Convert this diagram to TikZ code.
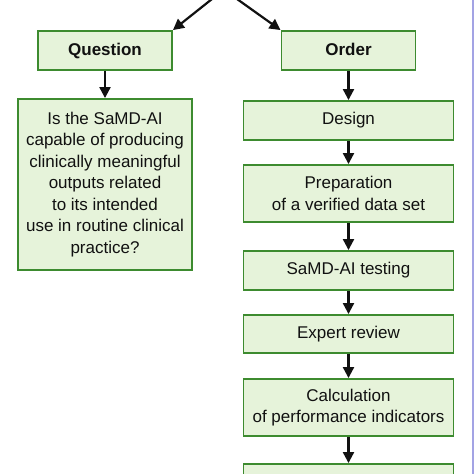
\documentclass[tikz,border=0pt]{standalone}
\usepackage{fontspec}
\setmainfont{Liberation Sans}
\usetikzlibrary{arrows.meta}
\definecolor{boxfill}{HTML}{E6F3DA}
\definecolor{boxline}{HTML}{3D8B2F}
\definecolor{edgebar}{HTML}{A3A3E4}
\definecolor{inkcol}{HTML}{111111}

\begin{document}
\begin{tikzpicture}[x=1pt,y=-1pt,
	box/.style={draw=boxline,fill=boxfill,line width=1.9pt,inner sep=0pt,align=center,
		text=inkcol,font=\fontsize{17}{21.5}\selectfont},
	head/.style={box,minimum width=134pt,minimum height=39pt,text height=12pt,text depth=2pt,
		font=\fontsize{17}{21.5}\selectfont\bfseries},
	step box/.style={box,minimum width=210pt},
	arr/.style={draw=inkcol,line width=2.2pt,-{Triangle[length=11pt,width=11pt]}}]
\useasboundingbox (0,0) rectangle (474,474);
\clip (0,0) rectangle (474,474);
\fill[white] (0,0) rectangle (474,474);
\fill[edgebar] (472,0) rectangle (474,474);
\coordinate (up1) at (212,-1);
\coordinate (up2) at (237,-1);
\node[head] (Q) at (105,50.5) {Question};
\node[head] (O) at (348.5,50.5) {Order};
\node[box,minimum width=174pt,minimum height=171pt] (QT) at (105,184.5)
	{Is the SaMD-AI\\capable of producing\\clinically meaningful\\outputs related\\to its intended\\use in routine clinical\\practice?};
\node[step box,minimum height=39pt] (D) at (348.5,120.5) {Design};
\node[step box,minimum height=57pt] (P) at (348.5,193.5) {Preparation\\of a verified data set};
\node[step box,minimum height=39pt] (T) at (348.5,270.5) {SaMD-AI testing};
\node[step box,minimum height=38pt] (E) at (348.5,334) {Expert review};
\node[step box,minimum height=57pt] (C) at (348.5,407.5) {Calculation\\of performance indicators};
\node[step box,minimum height=40pt] (L) at (348.5,484) {};
\draw[arr] (up1) -- (Q.north east);
\draw[arr] (up2) -- (O.north west);
\draw[arr] (Q) -- (QT);
\foreach \a/\b in {O/D,D/P,P/T,T/E,E/C,C/L}
	\draw[arr] (\a) -- (\b);
\end{tikzpicture}
\end{document}
